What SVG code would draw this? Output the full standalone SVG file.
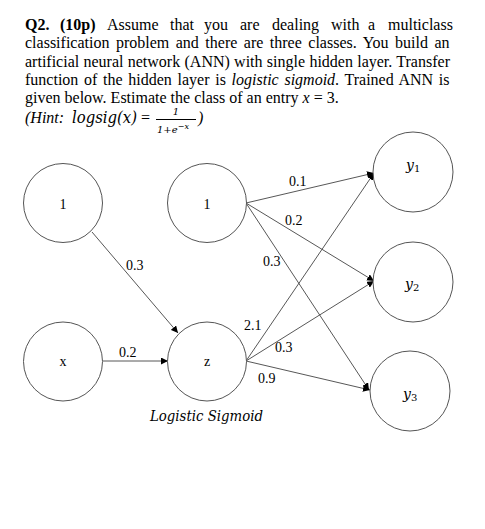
<svg xmlns="http://www.w3.org/2000/svg" width="485" height="529" viewBox="0 0 485 529">
<style>
.t{font-family:"Liberation Serif","Times New Roman",serif;font-size:16px;fill:#000}
.i{font-style:italic}
.b{font-weight:bold}
.m{font-family:"DejaVu Serif","Liberation Serif",serif;font-style:italic;fill:#000}
.node circle{fill:#fff;stroke:#555;stroke-width:1}
.lbl{font-family:"Liberation Serif","Times New Roman",serif;font-size:14px;fill:#000;text-anchor:middle}
.w{font-family:"Liberation Serif","Times New Roman",serif;font-size:14px;fill:#000}
.c line{stroke:#444;stroke-width:0.9;fill:none}
</style>
<defs>
<marker id="ah" viewBox="0 0 10 10" refX="10" refY="5" markerWidth="7" markerHeight="7" markerUnits="userSpaceOnUse" orient="auto">
<path d="M0,0 L10,5 L0,10 z" fill="#000"/>
</marker>
</defs>
<rect width="485" height="529" fill="#fff"/>
<g id="question">
<text class="t" y="30"><tspan class="b" x="25">Q2.</tspan><tspan class="b" x="60">(10p)</tspan><tspan x="107">Assume</tspan><tspan x="170">that</tspan><tspan x="204">you</tspan><tspan x="240">are</tspan><tspan x="272">dealing</tspan><tspan x="331">with</tspan><tspan x="368">a</tspan><tspan x="388">multiclass</tspan></text>
<text class="t" x="25" y="48" word-spacing="2.5">classification problem and there are three classes. You build an</text>
<text class="t" x="25" y="67" word-spacing="0.3">artificial neural network (ANN) with single hidden layer. Transfer</text>
<text class="t" x="25" y="85" word-spacing="1.7">function of the hidden layer is <tspan class="i">logistic sigmoid</tspan>. Trained ANN is</text>
<text class="t" x="25" y="103">given below. Estimate the class of an entry <tspan class="i">x</tspan> = 3.</text>
<text class="t i" x="25" y="123">(Hint:</text>
<text class="m" x="72" y="123" font-size="16" textLength="65" lengthAdjust="spacingAndGlyphs">logsig(x)</text>
<text class="t" x="141" y="123">=</text>
<text class="m" x="176" y="115" font-size="10" font-style="normal" text-anchor="middle">1</text>
<line x1="156" y1="119.5" x2="196" y2="119.5" stroke="#000" stroke-width="1"/>
<text class="m" x="157" y="133" font-size="10" font-style="normal">1+<tspan font-style="italic">e</tspan><tspan font-size="8" dy="-4">−<tspan font-style="italic">x</tspan></tspan></text>
<text class="t i" x="198" y="123">)</text>
</g>
<g class="c" id="connectors">
<line x1="92" y1="232" x2="178" y2="333" marker-end="url(#ah)"/>
<line x1="103" y1="361" x2="168" y2="361" marker-end="url(#ah)"/>
<line x1="246" y1="203" x2="374" y2="173" marker-end="url(#ah)"/>
<line x1="246" y1="203" x2="374" y2="281" marker-end="url(#ah)"/>
<line x1="246" y1="203" x2="369" y2="390" marker-end="url(#ah)"/>
<line x1="246" y1="361" x2="374" y2="173" marker-end="url(#ah)"/>
<line x1="246" y1="361" x2="374" y2="281" marker-end="url(#ah)"/>
<line x1="246" y1="361" x2="370" y2="390" marker-end="url(#ah)"/>
</g>
<g id="weights">
<text class="w" x="126" y="270">0.3</text>
<text class="w" x="119" y="357">0.2</text>
<text class="w" x="289" y="186">0.1</text>
<text class="w" x="285" y="225">0.2</text>
<text class="w" x="263" y="266">0.3</text>
<text class="w" x="244" y="330">2.1</text>
<text class="w" x="275" y="352">0.3</text>
<text class="w" x="258" y="383">0.9</text>
</g>
<g class="node" id="n-bias1"><circle cx="63" cy="203" r="39.5"/><text class="lbl" x="63" y="209">1</text></g>
<g class="node" id="n-bias2"><circle cx="207" cy="203" r="39.5"/><text class="lbl" x="207" y="209">1</text></g>
<g class="node" id="n-x"><circle cx="63" cy="361.5" r="39.5"/><text class="lbl" x="63" y="366">x</text></g>
<g class="node" id="n-z"><circle cx="207" cy="361.5" r="39.5"/><text class="lbl" x="207" y="366">z</text></g>
<g class="node" id="n-y1"><circle cx="413" cy="172" r="40"/><text class="m" x="406" y="170" font-size="14">y<tspan font-size="10" font-style="normal" dy="2">1</tspan></text></g>
<g class="node" id="n-y2"><circle cx="413" cy="282" r="40"/><text class="m" x="405" y="289" font-size="14">y<tspan font-size="10" font-style="normal" dy="2">2</tspan></text></g>
<g class="node" id="n-y3"><circle cx="410" cy="391" r="40"/><text class="m" x="403" y="399" font-size="14">y<tspan font-size="10" font-style="normal" dy="2">3</tspan></text></g>
<text class="m" x="150" y="421" font-size="14" textLength="113" lengthAdjust="spacingAndGlyphs">Logistic Sigmoid</text>
</svg>
